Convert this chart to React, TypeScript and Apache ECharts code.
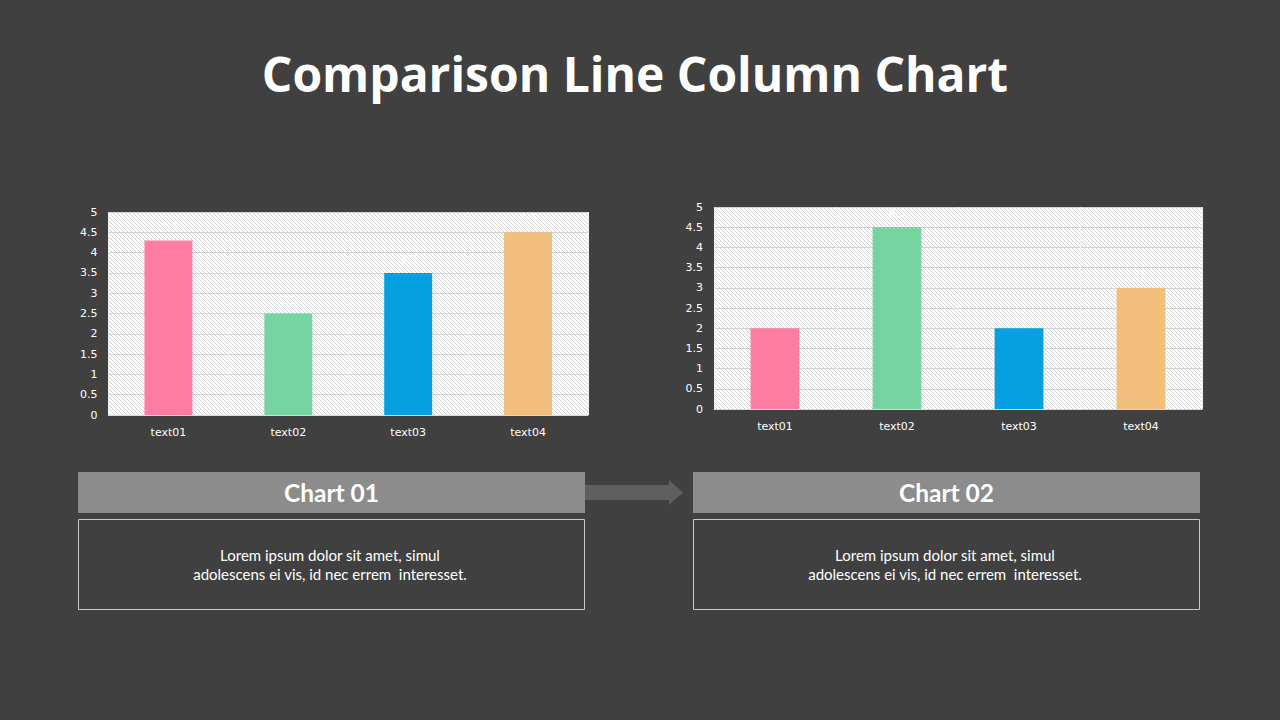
import React, { useEffect, useRef } from "react";
import * as echarts from "echarts";

const categories = ["text01", "text02", "text03", "text04"];
const chart1Values = [4.3, 2.5, 3.5, 4.5];
const chart2Values = [2, 4.5, 2, 3];
const barColors = ["#FF7CA3", "#76D4A0", "#05A0E0", "#F2BE7B"];
const titleText = "Comparison Line Column Chart";
const panelTitles = ["Chart 01", "Chart 02"];
const bodyText = "Lorem ipsum dolor sit amet, simul\nadolescens ei vis, id nec errem  interesset.";

function makeHatch() {
  const c = document.createElement("canvas");
  c.width = 4;
  c.height = 4;
  const ctx = c.getContext("2d")!;
  ctx.fillStyle = "#ffffff";
  ctx.fillRect(0, 0, 4, 4);
  ctx.fillStyle = "#d6d6d6";
  for (let i = 0; i < 4; i++) ctx.fillRect(i, i, 1, 1);
  return c;
}

export default function App() {
  const ref = useRef<HTMLDivElement>(null);
  useEffect(() => {
    const chart = echarts.init(ref.current!, null, { renderer: "svg" });
    const hatch = { image: makeHatch(), repeat: "repeat", imageWidth: 4, imageHeight: 4 } as any;
    const grids = [
      { left: 108.5, top: 212, width: 479.5, height: 203 },
      { left: 714, top: 207, width: 488, height: 202 },
    ];
    const data = [chart1Values, chart2Values];
    const axisFont = { fontFamily: "DejaVu Sans", fontSize: 11, color: "#ffffff" };
    chart.setOption({
      animation: false,
      backgroundColor: "#404040",
      title: {
        text: titleText,
        left: 630,
        textAlign: "center",
        top: 44,
        textStyle: { color: "#ffffff", fontFamily: "Open Sans", fontWeight: "bold", fontSize: 48 },
      },
      grid: grids.map((g) => ({ ...g, show: true, backgroundColor: hatch, borderWidth: 0 })),
      xAxis: grids.map((_, i) => ({
        type: "category",
        gridIndex: i,
        data: categories,
        axisTick: { show: false },
        axisLine: { show: true, lineStyle: { color: "#d9d9d9", width: 1 } },
        axisLabel: { ...axisFont, margin: 12 },
        splitLine: { show: true, lineStyle: { color: "#f2f2f2", width: 1 } },
      })),
      yAxis: grids.map((_, i) => ({
        type: "value",
        gridIndex: i,
        min: 0,
        max: 5,
        interval: 0.5,
        axisLine: { show: false },
        axisTick: { show: false },
        axisLabel: { ...axisFont, margin: 11 },
        splitLine: { show: true, lineStyle: { color: "#d4d4d4", width: 1 } },
      })),
      series: data.map((vals, i) => ({
        type: "bar",
        xAxisIndex: i,
        yAxisIndex: i,
        barWidth: "40%",
        data: vals.map((v, j) => ({ value: v, itemStyle: { color: barColors[j] } })),
        label: { show: true, position: "top", color: "#ffffff", fontFamily: "DejaVu Sans", fontSize: 11, distance: 8 },
      })),
      graphic: [
        {
          type: "polygon",
          shape: { points: [[584, 485], [669, 485], [669, 480], [683, 492.5], [669, 505], [669, 500], [584, 500]] },
          style: { fill: "#5f5f5f" },
        },
        ...[78, 693].flatMap((x, i) => [
          { type: "rect", shape: { x, y: 472, width: 507, height: 41 }, style: { fill: "#8c8c8c" } },
          {
            type: "text",
            x: x + 253.5,
            y: 492.5,
            style: {
              text: panelTitles[i],
              fill: "#ffffff",
              font: "bold 24.5px Lato",
              align: "center",
              verticalAlign: "middle",
            },
          },
          {
            type: "rect",
            shape: { x: x + 0.5, y: 519.5, width: 506, height: 90 },
            style: { fill: "none", stroke: "#c8c8c8", lineWidth: 1 },
          },
          {
            type: "text",
            x: x + 252,
            y: 564,
            style: {
              text: bodyText,
              fill: "#ffffff",
              font: "15px Lato",
              lineHeight: 19,
              align: "center",
              verticalAlign: "middle",
            },
          },
        ]),
      ],
    });
    return () => chart.dispose();
  }, []);
  return <div ref={ref} style={{ position: "fixed", left: 0, top: 0, width: 1280, height: 720 }} />;
}
